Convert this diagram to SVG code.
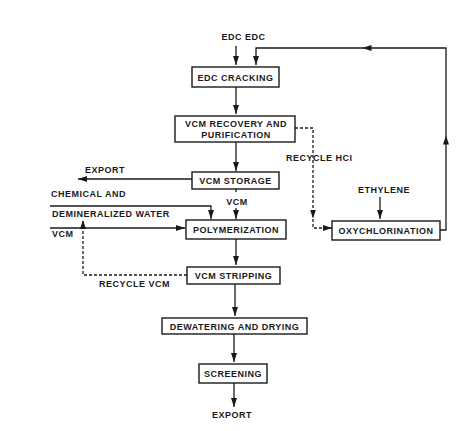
<svg xmlns="http://www.w3.org/2000/svg" width="474" height="431" viewBox="0 0 474 431">
<style>
text{font-family:"Liberation Sans",Arial,sans-serif;font-weight:bold;font-size:9px;letter-spacing:0.5px;fill:#1a1a1a}
.c{text-anchor:middle}
.box{fill:#fff;stroke:#1a1a1a;stroke-width:1.4}
.ln{fill:none;stroke:#1a1a1a;stroke-width:1.3}
.d{stroke-dasharray:3,2}
</style>
<defs>
<marker id="ah" markerUnits="userSpaceOnUse" markerWidth="9" markerHeight="6" refX="9" refY="3" orient="auto">
<path d="M0,0 L9,3 L0,6 z" fill="#1a1a1a"/>
</marker>
<marker id="mid" markerUnits="userSpaceOnUse" markerWidth="9" markerHeight="6" refX="4.5" refY="3" orient="auto">
<path d="M0,0 L9,3 L0,6 z" fill="#1a1a1a"/>
</marker>
</defs>
<rect width="474" height="431" fill="#fff"/>
<g id="connectors">
<path class="ln" d="M236,46 V65" marker-end="url(#ah)"/>
<path class="ln" d="M446,140 V48 H367" marker-end="url(#mid)"/>
<path class="ln" d="M367,48 H256 V65" marker-end="url(#ah)"/>
<path class="ln" d="M440,230 H446 V140" marker-end="url(#mid)"/>
<path class="ln" d="M236,87 V114" marker-end="url(#ah)"/>
<path class="ln" d="M236,142 V171" marker-end="url(#ah)"/>
<path class="ln d" d="M295,128 H313 V214" marker-end="url(#mid)"/>
<path class="ln d" d="M313,214 V228 H332" marker-end="url(#ah)"/>
<path class="ln" d="M192,179 H78" marker-end="url(#ah)"/>
<path class="ln" d="M236,189 V192"/>
<path class="ln" d="M236,208 V219" marker-end="url(#ah)"/>
<path class="ln" d="M50,206 H211 V219" marker-end="url(#ah)"/>
<path class="ln" d="M50,228 H185" marker-end="url(#ah)"/>
<path class="ln" d="M380,197 V219" marker-end="url(#ah)"/>
<path class="ln" d="M236,239 V265" marker-end="url(#ah)"/>
<path class="ln d" d="M187,275 H83 V220" marker-end="url(#ah)"/>
<path class="ln" d="M235,284 V316" marker-end="url(#ah)"/>
<path class="ln" d="M234,334 V362" marker-end="url(#ah)"/>
<path class="ln" d="M234,383 V407" marker-end="url(#ah)"/>
</g>
<g id="inputs">
<text x="243.5" y="40" class="c">EDC EDC</text>
<text x="51" y="197">CHEMICAL AND</text>
<text x="52" y="217">DEMINERALIZED WATER</text>
<text x="52" y="237">VCM</text>
<text x="358" y="193">ETHYLENE</text>
</g>
<g id="labels">
<text x="286" y="161">RECYCLE HCI</text>
<text x="85" y="173">EXPORT</text>
<text x="237" y="205" class="c">VCM</text>
<text x="99" y="287">RECYCLE VCM</text>
<text x="232" y="418" class="c">EXPORT</text>
</g>
<g id="edc-cracking">
<rect class="box" x="192" y="67" width="87" height="20"/>
<text x="235.5" y="80.5" class="c">EDC CRACKING</text>
</g>
<g id="vcm-recovery">
<rect class="box" x="175" y="116" width="120" height="26"/>
<text x="236" y="127" class="c">VCM RECOVERY AND</text>
<text x="236" y="137.5" class="c">PURIFICATION</text>
</g>
<g id="vcm-storage">
<rect class="box" x="192" y="172" width="87" height="17"/>
<text x="235.5" y="184" class="c">VCM STORAGE</text>
</g>
<g id="polymerization">
<rect class="box" x="186" y="220" width="100" height="19"/>
<text x="236" y="233" class="c">POLYMERIZATION</text>
</g>
<g id="oxychlorination">
<rect class="box" x="332" y="221" width="108" height="19"/>
<text x="386" y="234" class="c">OXYCHLORINATION</text>
</g>
<g id="vcm-stripping">
<rect class="box" x="187" y="267" width="93" height="17"/>
<text x="233.5" y="279" class="c">VCM STRIPPING</text>
</g>
<g id="dewatering">
<rect class="box" x="162" y="318" width="145" height="16"/>
<text x="234.5" y="329.5" class="c">DEWATERING AND DRYING</text>
</g>
<g id="screening">
<rect class="box" x="199" y="364" width="68" height="19"/>
<text x="233" y="377" class="c">SCREENING</text>
</g>
</svg>
